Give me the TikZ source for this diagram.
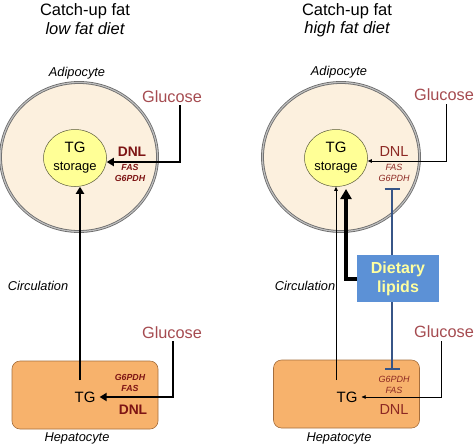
\documentclass[tikz,border=0pt]{standalone}
\usepackage{fontspec}
\setmainfont{Liberation Sans}
\usetikzlibrary{arrows.meta,shapes.geometric}
\definecolor{glc}{RGB}{165,75,80}
\definecolor{dnl}{RGB}{125,20,20}
\definecolor{dnlR}{RGB}{140,40,35}
\definecolor{adfill}{RGB}{252,240,222}
\definecolor{tgfill}{RGB}{255,255,150}
\definecolor{tgdraw}{RGB}{90,90,60}
\definecolor{hepfill}{RGB}{247,178,108}
\definecolor{hepdraw}{RGB}{165,110,60}
\definecolor{dlfill}{RGB}{92,145,214}
\definecolor{dltext}{RGB}{255,255,160}
\definecolor{inh}{RGB}{55,85,135}
\definecolor{ring}{RGB}{105,105,105}
\definecolor{ringin}{RGB}{190,190,190}
\tikzset{
  adipo/.style={ellipse,draw=ring,line width=0.8pt,double=ringin,double distance=1.2pt,fill=adfill,minimum width=157pt,minimum height=149pt,inner sep=0pt},
  tgcirc/.style={ellipse,draw=tgdraw,line width=0.5pt,fill=tgfill,minimum width=63pt,minimum height=57pt,inner sep=0pt,align=center,font=\fontsize{13}{18}\selectfont},
  hep/.style={rectangle,rounded corners=8pt,draw=hepdraw,line width=0.6pt,fill=hepfill,minimum width=146pt,minimum height=68pt,inner sep=0pt},
  title/.style={font=\fontsize{16.5}{18}\selectfont},
  lab/.style={font=\fontsize{12.8}{14}\selectfont\itshape},
  gluc/.style={text=glc,font=\fontsize{16.3}{18}\selectfont,inner sep=1pt},
  dnlb/.style={text=dnl,font=\fontsize{13.8}{15}\selectfont\bfseries,inner sep=0pt},
  enzb/.style={text=dnl,font=\fontsize{8.8}{10}\selectfont\bfseries\itshape,inner sep=0pt},
  dnln/.style={text=dnlR,font=\fontsize{14.5}{15}\selectfont,inner sep=0pt},
  enzn/.style={text=dnlR,font=\fontsize{9}{10}\selectfont\itshape,inner sep=0pt},
  tgtext/.style={font=\fontsize{15}{16}\selectfont,inner sep=4pt},
  thickarrow/.style={line width=2.4pt,-{Triangle[length=7pt,width=8pt]}},
  thinarrow/.style={line width=0.6pt,-{Triangle[length=4pt,width=3.5pt]}},
  heavyarrow/.style={line width=4pt,-{Triangle[length=10pt,width=11pt]}},
  inhib/.style={draw=inh,line width=1.4pt,-{Bar[width=15pt,line width=1.6pt]}},
  dlbox/.style={rectangle,fill=dlfill,minimum width=82pt,minimum height=47pt,text=dltext,font=\fontsize{16}{19}\selectfont\bfseries,align=center}
}
\begin{document}
\begin{tikzpicture}[x=1pt,y=-1pt]
\useasboundingbox (0,0) rectangle (474,445);
% ---------- left panel ----------
\node[title] (t1L) at (85,11) {Catch-up fat};
\node[title,font=\fontsize{16.5}{18}\selectfont\itshape] (t2L) at (85,29) {low fat diet};
\node[lab] (adlabL) at (77,73) {Adipocyte};
\node[adipo] (adL) at (79,157) {};
\node[tgcirc] (tgL) at (75,158) {{\fontsize{15}{18}\selectfont TG}\\storage};
\node[gluc] (glL) at (172,97) {Glucose};
\node[dnlb] (dnlL) at (132,152) {DNL};
\node[enzb] (fasL) at (130,167) {FAS};
\node[enzb] (g6L) at (130,178) {G6PDH};
\coordinate (gtL) at (180,105);
\draw[thickarrow] (gtL) |- ([yshift=-4pt]tgL.east);
\node[lab] (circL) at (38,286) {Circulation};
\node[hep] (hepL) at (85,395) {};
\node[lab] (heplabL) at (77,438) {Hepatocyte};
\node[tgtext] (tgHL) at (85,397) {TG};
\node[enzb] (g6HL) at (130,377) {G6PDH};
\node[enzb] (fasHL) at (130,388) {FAS};
\node[dnlb] (dnlHL) at (133,410) {DNL};
\node[gluc] (glHL) at (172,333) {Glucose};
\coordinate (gtHL) at (173,341);
\draw[thickarrow] (gtHL) |- (tgHL.east);
\coordinate (upL) at (80,380);
\draw[thickarrow] (upL) -- (upL |- tgL.south);
% ---------- right panel ----------
\node[title] (t1R) at (347,11) {Catch-up fat};
\node[title,font=\fontsize{16.5}{18}\selectfont\itshape] (t2R) at (347,29) {high fat diet};
\node[lab] (adlabR) at (339,72) {Adipocyte};
\node[adipo] (adR) at (341,157) {};
\node[tgcirc] (tgR) at (336,158) {{\fontsize{15}{18}\selectfont TG}\\storage};
\node[gluc] (glR) at (444,95) {Glucose};
\node[dnln] (dnlR) at (394,152) {DNL};
\node[enzn] (fasR) at (394,167) {FAS};
\node[enzn] (g6R) at (394,178) {G6PDH};
\coordinate (gtR) at (446,104);
\draw[thinarrow] (gtR) |- ([yshift=-3pt]tgR.east);
\node[lab] (circR) at (305,286) {Circulation};
\node[dlbox] (dl) at (398,278.5) {Dietary\\lipids};
\node[hep] (hepR) at (346.5,394) {};
\node[lab] (heplabR) at (339,438) {Hepatocyte};
\node[tgtext] (tgHR) at (347,397) {TG};
\node[enzn] (g6HR) at (394,379) {G6PDH};
\node[enzn] (fasHR) at (394,390) {FAS};
\node[dnln] (dnlHR) at (394,410) {DNL};
\node[gluc] (glHR) at (444,332) {Glucose};
\coordinate (gtHR) at (441,341);
\draw[thinarrow] (gtHR) |- (tgHR.east);
\coordinate (upR) at (336,380);
\draw[thinarrow] (upR) -- (upR |- tgR.south);
\coordinate (hvR) at (346,189);
\draw[heavyarrow] (dl.west) -| (hvR);
\coordinate (inUp) at (392,188);
\coordinate (inDn) at (392,370);
\draw[inhib] (dl.north -| inUp) -- (inUp);
\draw[inhib] (dl.south -| inDn) -- (inDn);
\end{tikzpicture}
\end{document}
